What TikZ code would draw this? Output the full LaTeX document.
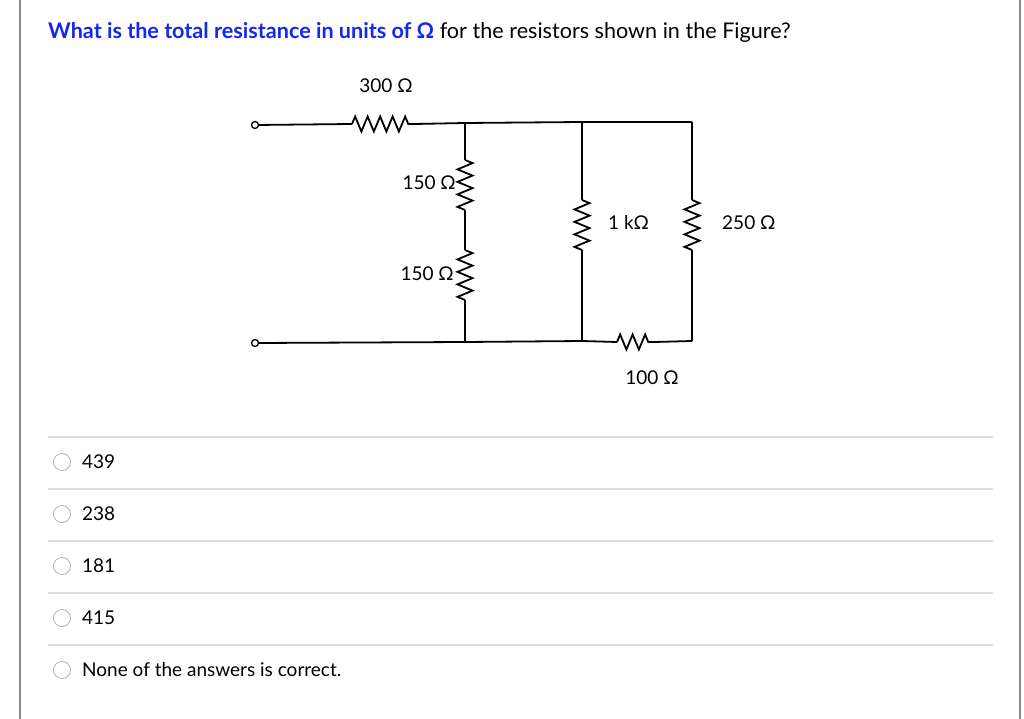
\documentclass[tikz,border=0pt]{standalone}
\usepackage{fontspec}
\setmainfont{Lato}
\usetikzlibrary{decorations.pathmorphing}
\definecolor{qblue}{RGB}{20,40,235}
\begin{document}
\begin{tikzpicture}[x=1pt,y=-1pt,
  wire/.style={line width=1.8pt},
  res/.style={wire,decorate,decoration={zigzag,segment length=12.5pt,amplitude=7.5pt,pre length=0pt,post length=0pt}},
  term/.style={circle,draw,line width=1.3pt,inner sep=0pt,minimum size=7pt,fill=white},
  lbl/.style={font=\fontsize{19}{22}\selectfont,inner sep=0pt},
  sep/.style={draw=black!13,line width=1.2pt},
  radio/.style={circle,draw=black!30,line width=0.8pt,inner sep=0pt,minimum size=17pt},
  ans/.style={font=\fontsize{19}{22}\selectfont,anchor=west,inner sep=0pt}]
\useasboundingbox (0,0) rectangle (1024,719);
\draw[black!45,line width=1.2pt] (20,0) -- (20,719);
\draw[black!45,line width=1.2pt] (1020,0) -- (1020,719);
\node[anchor=base west,inner sep=0pt,font=\fontsize{21.6}{25}\selectfont] (q) at (48,39)
 {\textcolor{qblue}{\bfseries What is the total resistance in units of Ω} for the resistors shown in the Figure?};
% circuit coordinates
\node[term] (t1) at (255,125) {};
\node[term] (t2) at (255,343) {};
\coordinate (r1a) at (352,124); \coordinate (r1b) at (414,124);
\coordinate (A) at (465,123); \coordinate (B) at (582,122); \coordinate (C) at (692,122);
\coordinate (a1) at (465,160); \coordinate (a2) at (465,210);
\coordinate (a3) at (465,250); \coordinate (a4) at (465,300);
\coordinate (D) at (465,342); \coordinate (E) at (582,341); \coordinate (F) at (692,341);
\coordinate (b1) at (582,200); \coordinate (b2) at (582,250);
\coordinate (c1) at (692,200); \coordinate (c2) at (692,250);
\coordinate (d1) at (617,342); \coordinate (d2) at (654,342);
\draw[wire] (t1) -- (r1a); \draw[res] (r1a) -- (r1b); \draw[wire] (r1b) -- (A) -- (B) -- (C);
\draw[wire] (A) -- (a1); \draw[res] (a1) -- (a2); \draw[wire] (a2) -- (a3); \draw[res] (a3) -- (a4); \draw[wire] (a4) -- (D);
\draw[wire] (B) -- (b1); \draw[res] (b1) -- (b2); \draw[wire] (b2) -- (E);
\draw[wire] (C) -- (c1); \draw[res] (c1) -- (c2); \draw[wire] (c2) -- (F);
\draw[wire] (t2) -- (D) -- (E) -- (d1); \draw[res] (d1) -- (d2); \draw[wire] (d2) -- (F);
\node[lbl] (l300) at (386,86) {300 Ω};
\node[lbl,anchor=east] (l150a) at (456,183) {150 Ω};
\node[lbl,anchor=east] (l150b) at (454,274) {150 Ω};
\node[lbl,anchor=west] (l1k) at (608,223) {1 kΩ};
\node[lbl,anchor=west] (l250) at (722,223) {250 Ω};
\node[lbl] (l100) at (652,378) {100 Ω};
% answers
\foreach \y in {437,489,541,593,645} \draw[sep] (48,\y) -- (993,\y);
\foreach \y/\t/\n in {462/439/o1,514/238/o2,566/181/o3,618/415/o4,670/None of the answers is correct./o5}{
  \node[radio] (r\n) at (62,\y) {};
  \node[ans] (\n) at (82,\y) {\t};
}
\end{tikzpicture}
\end{document}
